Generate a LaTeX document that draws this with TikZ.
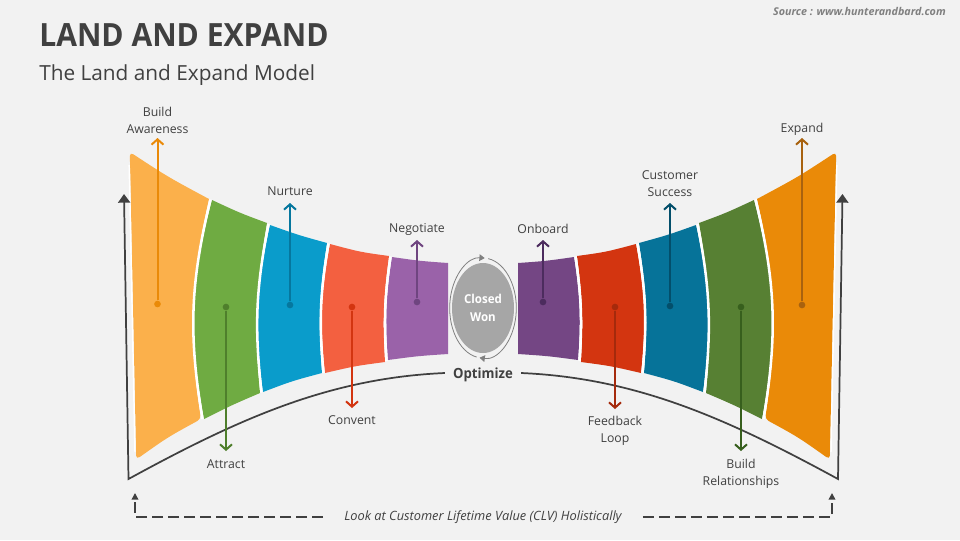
\documentclass[tikz,border=0pt]{standalone}
\usepackage{fontspec}
\setmainfont[BoldFeatures={FakeStretch=0.94}]{Open Sans}
\usetikzlibrary{arrows.meta,shapes.geometric}
\definecolor{pagebg}{HTML}{F2F2F2}
\definecolor{inktext}{HTML}{404040}
\definecolor{segA}{HTML}{FBB04B}
\definecolor{segB}{HTML}{6FAB42}
\definecolor{segC}{HTML}{0A9CCB}
\definecolor{segD}{HTML}{F36040}
\definecolor{segE}{HTML}{9A62A9}
\definecolor{segF}{HTML}{744684}
\definecolor{segG}{HTML}{D33510}
\definecolor{segH}{HTML}{067399}
\definecolor{segI}{HTML}{578033}
\definecolor{segJ}{HTML}{EA8A08}
\definecolor{lineA}{HTML}{EA8A08}
\definecolor{lineB}{HTML}{4F7F2C}
\definecolor{lineC}{HTML}{06779E}
\definecolor{lineD}{HTML}{D33510}
\definecolor{lineE}{HTML}{6F4580}
\definecolor{lineF}{HTML}{4C2C5E}
\definecolor{lineG}{HTML}{A52A0C}
\definecolor{lineH}{HTML}{034F6B}
\definecolor{lineI}{HTML}{375F1D}
\definecolor{lineJ}{HTML}{A8620F}
\tikzset{
  stepname/.style={text=inktext,font=\fontsize{9.2pt}{12.7pt}\selectfont,align=center,inner xsep=0pt,inner ysep=#1},
  stepdot/.style={circle,fill=#1,inner sep=0pt,minimum size=5pt},
  stepline/.style={draw=#1,line width=1.5pt,-{Straight Barb[length=4pt,width=9pt]}},
  gapline/.style={draw=white,line width=1.9pt},
  rimline/.style={draw=white,line width=1.1pt},
  frameline/.style={draw=inktext,line width=1.3pt},
  frametip/.style={-{Triangle[length=6.5pt,width=9pt]}},
  dashline/.style={draw=inktext,line width=1.1pt,dash pattern=on 8pt off 4pt,-{Triangle[length=5pt,width=5pt]}},
  ringline/.style={draw=gray,line width=0.6pt,-{Triangle[length=4pt,width=5pt]}}
}
\begin{document}
\begin{tikzpicture}[x=0.75pt,y=0.75pt]
    \fill [pagebg] (0,0) rectangle (960,-540);
    \useasboundingbox (0,0) rectangle (960,-540);
    \node (title) [anchor=west,inner sep=0pt,text=inktext,font=\bfseries\fontsize{24pt}{24pt}\selectfont] at (39,-35) {LAND AND EXPAND};
    \node (subtitle) [anchor=west,inner sep=0pt,text=inktext,font=\fontsize{15.6pt}{16pt}\selectfont] at (39,-75.5) {The Land and Expand Model};
    \node (source) [anchor=east,inner sep=0pt,text=gray,font=\bfseries\itshape\fontsize{8.05pt}{9pt}\selectfont] at (946,-11) {Source : www.hunterandbard.com};
    % left half
    \fill [segA] (209,-199) [rounded corners=3pt] .. controls (168,-177) .. (129.8,-152) -- (136.2,-459.5) .. controls (168,-437) .. (201,-419) [sharp corners] to [bend left=10.7] cycle;
    \fill [segB] (212,-200) .. controls (240,-213) .. (267,-223) to [bend right=7.5] (260,-393) .. controls (232,-405) .. (204,-419) to [bend left=12.6] cycle;
    \fill [segC] (270,-225) .. controls (298,-235) .. (327,-243) to [bend right=6.8] (322,-373) .. controls (292,-381) .. (263,-392) to [bend left=10] cycle;
    \fill [segD] (330,-244) .. controls (360,-252) .. (389,-256) to [bend right=5.5] (385,-362) .. controls (355,-366) .. (325,-373) to [bend left=8.3] cycle;
    \fill [segE] (392,-257) .. controls (420,-261) .. (448,-263) -- (448,-354) .. controls (418,-356) .. (388,-360) to [bend left=6.7] cycle;
    % right half
    \fill [segF] (574,-257) .. controls (546,-261) .. (518,-263) -- (518,-354) .. controls (548,-356) .. (578,-360) to [bend right=6.7] cycle;
    \fill [segG] (636,-244) .. controls (606,-252) .. (577,-256) to [bend left=5.5] (581,-362) .. controls (611,-366) .. (641,-373) to [bend right=8.3] cycle;
    \fill [segH] (696,-225) .. controls (668,-235) .. (639,-243) to [bend left=6.8] (644,-373) .. controls (674,-381) .. (703,-392) to [bend right=10] cycle;
    \fill [segI] (754,-200) .. controls (726,-213) .. (699,-223) to [bend left=7.5] (706,-393) .. controls (734,-405) .. (762,-419) to [bend right=12.6] cycle;
    \fill [segJ] (757,-199) [rounded corners=3pt] .. controls (798,-177) .. (836.2,-152) -- (829.8,-459.5) .. controls (798,-437) .. (765,-419) [sharp corners] to [bend right=10.7] cycle;
    % white gaps
    \draw [gapline] (202.5,-419) to [bend left=11.6] (210.5,-199.5);
    \draw [gapline] (261.5,-392.5) to [bend left=8.7] (268.5,-224);
    \draw [gapline] (323.5,-373) to [bend left=7.5] (328.5,-243.5);
    \draw [gapline] (386.5,-361) to [bend left=6.1] (390.5,-256.5);
    \draw [gapline] (579.5,-361) to [bend right=6.1] (575.5,-256.5);
    \draw [gapline] (642.5,-373) to [bend right=7.5] (637.5,-243.5);
    \draw [gapline] (704.5,-392.5) to [bend right=8.7] (697.5,-224);
    \draw [gapline] (763.5,-419) to [bend right=11.6] (755.5,-199.5);
    \draw [rimline] (129.2,-165) -- (135,-452);
    \draw [rimline] (836.8,-165) -- (831,-452);
    % frame
    \node (optimize) [inner xsep=6pt,inner ysep=0pt,text depth=0pt,text=inktext,font=\bfseries\fontsize{10.5pt}{12pt}\selectfont] at (483,-373) {Optimize};
    \coordinate (frameL) at (124,-194);
    \coordinate (cornerL) at (128.5,-479);
    \coordinate (frameR) at (842.5,-194);
    \coordinate (cornerR) at (838,-479);
    \draw [frameline,frametip] (optimize.west) .. controls (330,-378) and (240,-418) .. (cornerL) -- (frameL);
    \draw [frameline,frametip] (optimize.east) .. controls (636,-378) and (726,-418) .. (cornerR) -- (frameR);
    % centre
    \node (closed) [ellipse,fill=black!35,inner sep=0pt,minimum width=46.5pt,minimum height=67.5pt,text=white,align=center,font=\bfseries\fontsize{9.2pt}{13pt}\selectfont] at (483,-308) {Closed\\Won};
    \draw [ringline] (483,-308) ++(81:25pt and 37.5pt) arc (81:-96:25pt and 37.5pt);
    \draw [ringline] (483,-308) ++(-101:25pt and 37.5pt) arc (-101:-273:25pt and 37.5pt);
    % steps
    \node (awareness) [stepname=3.3pt,anchor=south] at (157.5,-138) {Build\\Awareness};
    \node (attract) [stepname=6.2pt,anchor=north] at (226,-451) {Attract};
    \node (nurture) [stepname=5.5pt,anchor=south] at (290,-203) {Nurture};
    \node (convent) [stepname=5.5pt,anchor=north] at (352,-408) {Convent};
    \node (negotiate) [stepname=3.2pt,anchor=south] at (417,-240) {Negotiate};
    \node (onboard) [stepname=4.7pt,anchor=south] at (543,-240) {Onboard};
    \node (feedback) [stepname=5.5pt,anchor=north] at (615,-409) {Feedback\\Loop};
    \node (success) [stepname=4.4pt,anchor=south] at (670,-203) {Customer\\Success};
    \node (relations) [stepname=6.2pt,anchor=north] at (741,-451) {Build\\Relationships};
    \node (expand) [stepname=1.8pt,anchor=south] at (802,-138) {Expand};
    \node (dotA) [stepdot=lineA] at (157.5,-304) {};
    \node (dotB) [stepdot=lineB] at (226,-307) {};
    \node (dotC) [stepdot=lineC] at (290,-305) {};
    \node (dotD) [stepdot=lineD] at (352,-307) {};
    \node (dotE) [stepdot=lineE] at (417,-302) {};
    \node (dotF) [stepdot=lineF] at (543,-302) {};
    \node (dotG) [stepdot=lineG] at (615,-307) {};
    \node (dotH) [stepdot=lineH] at (670,-306) {};
    \node (dotI) [stepdot=lineI] at (741,-307) {};
    \node (dotJ) [stepdot=lineJ] at (802,-305) {};
    \draw [stepline=lineA] (dotA) -- (awareness);
    \draw [stepline=lineB] (dotB) -- (attract);
    \draw [stepline=lineC] (dotC) -- (nurture);
    \draw [stepline=lineD] (dotD) -- (convent);
    \draw [stepline=lineE] (dotE) -- (negotiate);
    \draw [stepline=lineF] (dotF) -- (onboard);
    \draw [stepline=lineG] (dotG) -- (feedback);
    \draw [stepline=lineH] (dotH) -- (success);
    \draw [stepline=lineI] (dotI) -- (relations);
    \draw [stepline=lineJ] (dotJ) -- (expand);
    % bottom note
    \node (clv) [inner xsep=15.7pt,inner ysep=0pt,text=inktext,font=\itshape\fontsize{9.6pt}{11pt}\selectfont] at (483,-517) {Look at Customer Lifetime Value (CLV) Holistically};
    \coordinate (noteL) at (135,-493);
    \coordinate (noteR) at (832,-493);
    \draw [dashline] (clv.west) -| (noteL);
    \draw [dashline] (clv.east) -| (noteR);
\end{tikzpicture}
\end{document}
